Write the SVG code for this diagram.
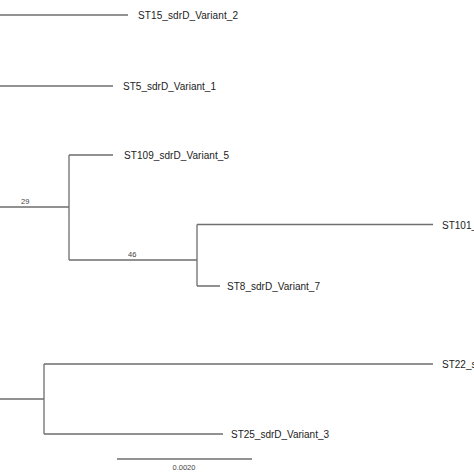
<svg xmlns="http://www.w3.org/2000/svg" width="474" height="474" viewBox="0 0 474 474">
<style>
.e{stroke:#6e6e6e;stroke-width:1.3;fill:none}
.t{font-family:"Liberation Sans",Arial,sans-serif;font-size:10px;fill:#222}
.b{font-family:"Liberation Sans",Arial,sans-serif;font-size:7.5px;fill:#444}
</style>
<rect width="474" height="474" fill="#fff"/>
<g id="edges">
<path class="e" d="M0 15H128"/>
<path class="e" d="M0 86H113"/>
<path class="e" d="M0 207H69M69 155V260M69 155H113M69 260H197M197 224.5V286M197 224.5H433M197 286H220"/>
<path class="e" d="M0 399H44M44 364V434M44 364H433M44 434H223"/>
</g>
<g id="n_st15"><text class="t" x="138" y="19" textLength="100">ST15_sdrD_Variant_2</text></g>
<g id="n_st5"><text class="t" x="123" y="90" textLength="93">ST5_sdrD_Variant_1</text></g>
<g id="n_st109"><text class="t" x="124" y="159" textLength="105">ST109_sdrD_Variant_5</text></g>
<g id="n_st101"><text class="t" x="442" y="228.5">ST101_sdrD_Variant_6</text></g>
<g id="n_st8"><text class="t" x="227" y="290" textLength="93">ST8_sdrD_Variant_7</text></g>
<g id="n_st22"><text class="t" x="442" y="368">ST22_sdrD_Variant_4</text></g>
<g id="n_st25"><text class="t" x="231" y="438" textLength="98">ST25_sdrD_Variant_3</text></g>
<g id="b29"><text class="b" x="21" y="204">29</text></g>
<g id="b46"><text class="b" x="128" y="257">46</text></g>
<g id="scale">
<path class="e" d="M117 459H252"/>
<text class="b" x="184" y="470" text-anchor="middle" font-size="8.5">0.0020</text>
</g>
</svg>
